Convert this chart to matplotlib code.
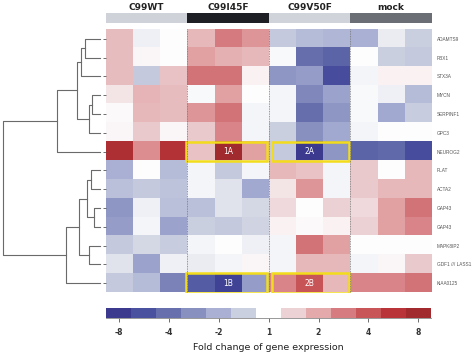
import numpy as np
import matplotlib
matplotlib.use("Agg")
import matplotlib.pyplot as plt
from matplotlib.colors import LinearSegmentedColormap, ListedColormap
from matplotlib.patches import Rectangle

genes = ["ADAMTS9", "PBX1", "STX3A", "MYCN", "SERPINF1", "GPC3", "NEUROG2",
         "PLAT", "ACTA2", "GAP43", "GAP43", "MAPK8IP2", "GDF1 /// LASS1", "KIAA0125"]
groups = ["C99WT", "C99I45F", "C99V50F", "mock"]
group_colors = ["#cfd2d9", "#1e1f24", "#d0d3da", "#6b6f75"]

# log2 fold change per replicate
c99wt = [[0.75, -0.15, 0.0], [0.75, 0.1, 0.0], [0.75, -0.6, 0.7], [0.3, 0.85, 0.75],
         [0.05, 0.8, 0.75], [0.1, 0.6, 0.1], [2.7, 1.3, 2.6], [-1.0, 0.0, -0.8],
         [-0.75, -0.6, -0.7], [-1.4, -0.15, -0.75], [-1.3, -0.1, -1.2], [-0.6, -0.4, -0.55],
         [-0.3, -1.2, -0.15], [-0.6, -0.8, -1.7]]
c99i45f = [[0.8, 1.5, 1.2], [1.1, 0.9, 0.8], [1.6, 1.6, 0.15], [-0.05, 1.1, 0.0],
           [1.2, 1.6, -0.1], [0.6, 1.4, -0.1], [0.7, 3.0, 1.1], [-0.1, -0.6, -0.1],
           [-0.1, -0.3, -1.1], [-0.75, -0.3, -0.4], [-0.5, -0.6, -0.45], [-0.1, 0.0, -0.15],
           [-0.2, -0.1, 0.1], [-2.3, -2.8, -1.3]]
c99v50f = [[-0.6, -0.8, -0.9], [-0.05, -2.0, -2.2], [-1.4, -1.3, -2.6], [-0.1, -1.6, -1.2],
           [-0.1, -2.0, -1.4], [-0.5, -1.5, -1.1], [-0.6, -3.2, -1.4], [0.8, 0.7, -0.1],
           [0.3, 1.2, -0.1], [0.4, 0.0, 0.5], [0.15, 0.05, 0.15], [-0.1, 1.6, 1.1],
           [-0.1, 0.8, 0.8], [1.4, 2.0, 0.8]]
mock = [[-1.0, -0.2, -0.5], [0.0, -0.5, -0.6], [-0.1, 0.15, 0.15], [-0.05, -0.15, -0.8],
        [-0.05, -1.1, -0.55], [-0.1, 0.0, 0.0], [-2.2, -2.1, -2.6], [0.6, 0.0, 0.8],
        [0.6, 0.8, 0.8], [0.4, 1.1, 1.6], [0.5, 1.1, 1.4], [0.0, 0.0, 0.0],
        [-0.1, 0.1, 0.6], [1.4, 1.4, 1.6]]

# row clustering: (child a, child b, merge height), leaves are 0..13
merges = [(0, 1, 15.0), (14, 2, 20.0), (3, 4, 8.7), (16, 5, 11.3), (15, 17, 23.7),
          (18, 6, 44.7), (9, 10, 5.7), (7, 8, 9.7), (21, 20, 13.7), (11, 12, 11.3),
          (22, 23, 21.3), (24, 13, 34.7), (19, 25, 100.3)]

scale_colors = ["#3b3a8f", "#4a52a0", "#6770ad", "#8890c0", "#a9b0d4", "#cbd0e0", "#ffffff",
                "#ecd2d5", "#e4a9ab", "#d67c80", "#c85558", "#b83438", "#a12a2e"]
scale_ticks = ["-8", "-4", "-2", "1", "2", "4", "8"]

# ------------------------------------------------------------------
W, H = 474, 355
fig = plt.figure(figsize=(W / 100, H / 100), dpi=100)


def px_axes(x0, y0, x1, y1):
    return fig.add_axes([x0 / W, 1 - y1 / H, (x1 - x0) / W, (y1 - y0) / H])


data = np.hstack([np.array(c99wt), np.array(c99i45f), np.array(c99v50f), np.array(mock)])
n_rows, n_cols = data.shape

cmap = LinearSegmentedColormap.from_list(
    "fold", list(zip(np.linspace(0, 1, len(scale_colors)), scale_colors)))

ax = px_axes(106, 29.3, 431.5, 292.5)
ax.imshow(data, cmap=cmap, vmin=-3, vmax=3, aspect="auto", interpolation="nearest")
ax.set_xticks([])
ax.set_yticks(range(n_rows))
ax.set_yticklabels(genes, fontsize=3.4, color="#555555", family="Liberation Sans")
ax.tick_params(axis="y", left=True, right=False, labelleft=False, labelright=True,
               length=2.5, width=0.6, color="#555555", pad=1.5)
for s in ax.spines.values():
    s.set_visible(False)
for b in [3, 6, 9, 12]:
    ax.axvline(b - 0.5, color="#777777", lw=0.6, ls=(0, (1, 1)))

yellow = "#f2dc1c"
for r, lab_a, lab_b in [(6, "1A", "2A"), (13, "1B", "2B")]:
    ax.add_patch(Rectangle((2.45, r - 0.52), 2.97, 1.02, fill=False, ec=yellow, lw=1.8))
    ax.add_patch(Rectangle((5.61, r - 0.52), 2.85, 1.02, fill=False, ec=yellow, lw=1.8))
    ax.text(4, r, lab_a, color="white", fontsize=5.5, ha="center", va="center")
    ax.text(7, r, lab_b, color="white", fontsize=5.5, ha="center", va="center")

# group header
gax = px_axes(106, 12.7, 431.5, 23.3)
gax.imshow([list(range(len(groups)))], cmap=ListedColormap(group_colors), aspect="auto",
           extent=(0, len(groups), 0, 1))
gax.set_axis_off()
for i, g in enumerate(groups):
    x_px = 106 + (i + 0.5) * (431.5 - 106) / len(groups)
    fig.text(x_px / W, 1 - 7.3 / H, g, ha="center", va="center", fontsize=6.5,
             fontweight="bold", color="#222222")

# dendrogram
dax = px_axes(2.7, 29.3, 100, 292.5)
ypos = {i: float(i) for i in range(n_rows)}
hpos = {i: 0.0 for i in range(n_rows)}
for k, (a, b, h) in enumerate(merges):
    node = n_rows + k
    dax.plot([hpos[a], h, h, hpos[b]], [ypos[a], ypos[a], ypos[b], ypos[b]],
             color="#6a6a6a", lw=0.8, clip_on=False)
    ypos[node] = (ypos[a] + ypos[b]) / 2
    hpos[node] = h
dax.set_xlim(merges[-1][2], 0)
dax.set_ylim(n_rows - 0.5, -0.5)
dax.set_axis_off()

# colour scale
cax = px_axes(106, 308.3, 431, 318.3)
cax.imshow([list(range(len(scale_colors)))], cmap=ListedColormap(scale_colors),
           aspect="auto", extent=(0, len(scale_colors), 0, 1))
cax.set_yticks([])
cax.set_xticks(np.arange(0.5, len(scale_colors), 2))
cax.set_xticklabels(scale_ticks, fontsize=5.5, fontweight="bold", color="#333333")
cax.tick_params(axis="x", length=3, width=0.6, color="#555555", pad=4)
for name, s in cax.spines.items():
    s.set_visible(name == "bottom")
cax.spines["bottom"].set_color("#888888")
cax.spines["bottom"].set_linewidth(0.6)

fig.text(268 / W, 1 - 347 / H, "Fold change of gene expression", ha="center", va="center",
         fontsize=6.8, color="#222222")

fig.savefig("out.png", dpi=100)
